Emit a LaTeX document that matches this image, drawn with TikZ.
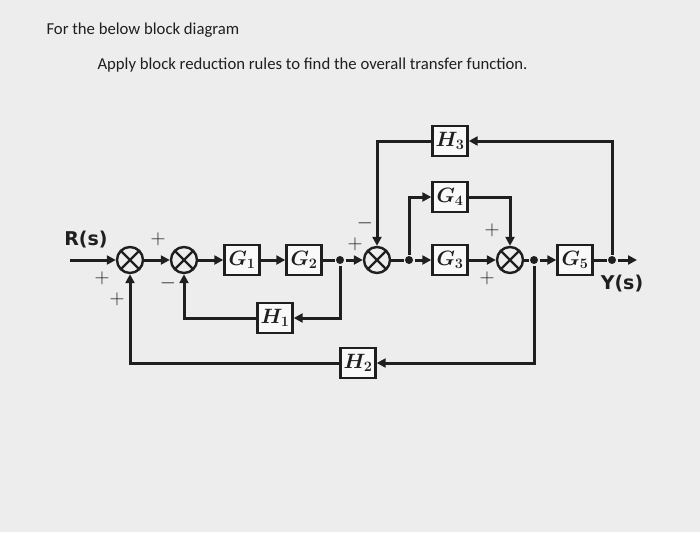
\documentclass[tikz,border=0pt]{standalone}
\usepackage{fontspec}
\setmainfont{Carlito}
\setsansfont{DejaVu Sans}
\usetikzlibrary{arrows.meta}
\begin{document}
\begin{tikzpicture}[x=1pt,y=-1pt,
  line width=3pt, color=black!88,
  blk/.style={draw,line width=2.4pt,minimum width=35pt,minimum height=30pt,inner sep=0pt,font=\fontsize{21}{22}\selectfont\boldmath,fill=white!95!gray},
  sumj/.style={draw,circle,line width=2.4pt,minimum size=26pt,inner sep=0pt,path picture={\draw[line width=2.2pt] (path picture bounding box.north west)--(path picture bounding box.south east) (path picture bounding box.north east)--(path picture bounding box.south west);}},
  dotn/.style={circle,fill,inner sep=0pt,minimum size=8pt},
  arr/.style={-{Triangle[length=9pt,width=9pt]}},
  sg/.style={font=\fontsize{20}{20}\selectfont}]
\fill[gray!14] (0,0) rectangle (700,532);
\useasboundingbox (0,0) rectangle (700,532);
\node[anchor=west,inner sep=0pt,font=\fontsize{16.7}{18}\selectfont] (t1) at (45,30) {For the below block diagram};
\node[anchor=west,inner sep=0pt,font=\fontsize{16.7}{18}\selectfont] (t2) at (96,65) {Apply block reduction rules to find the overall transfer function.};

\coordinate (in) at (70,260);
\node[sumj] (s1) at (130,260) {};
\node[sumj] (s2) at (184,260) {};
\node[blk] (g1) at (242,260) {$G_1$};
\node[blk] (g2) at (304,260) {$G_2$};
\node[dotn] (d1) at (340,260) {};
\node[sumj] (s3) at (377,260) {};
\node[dotn] (d2) at (409,260) {};
\node[blk] (g3) at (450,260) {$G_3$};
\node[blk] (g4) at (450,197) {$G_4$};
\node[sumj] (s4) at (510,260) {};
\node[dotn] (d3) at (534,260) {};
\node[blk] (g5) at (575,260) {$G_5$};
\node[dotn] (d4) at (612,260) {};
\coordinate (out) at (637,260);
\node[blk] (h1) at (275,318) {$H_1$};
\node[blk] (h2) at (358,363) {$H_2$};
\node[blk] (h3) at (450,141) {$H_3$};

\draw[arr] (in) -- (s1);
\draw[arr] (s1) -- (s2);
\draw[arr] (s2) -- (g1);
\draw[arr] (g1) -- (g2);
\draw (g2) -- (d1);
\draw[arr] (d1) -- (s3);
\draw (s3) -- (d2);
\draw[arr] (d2) -- (g3);
\draw[arr] (d2) |- (g4);
\draw[arr] (g3) -- (s4);
\draw[arr] (g4) -| (s4);
\draw (s4) -- (d3);
\draw[arr] (d3) -- (g5);
\draw (g5) -- (d4);
\draw[arr] (d4) -- (out);
\draw[arr] (d1) |- (h1);
\draw[arr] (h1) -| (s2);
\draw[arr] (d3) |- (h2);
\draw[arr] (h2) -| (s1);
\draw[arr] (d4) |- (h3);
\draw[arr] (h3) -| (s3);

\node[font=\sffamily\bfseries\fontsize{19}{19}\selectfont] (rs) at (86,240) {R(s)};
\node[font=\sffamily\bfseries\fontsize{19}{19}\selectfont] (ys) at (622,284) {Y(s)};
\node[sg] (p1) at (102,278) {$+$};
\node[sg] (p2) at (117,299) {$+$};
\node[sg] (p3) at (158,239) {$+$};
\node[sg] (m1) at (168,283) {$-$};
\node[sg] (p4) at (355,244) {$+$};
\node[sg] (m2) at (365,223) {$-$};
\node[sg] (p5) at (492,230) {$+$};
\node[sg] (p6) at (487,278) {$+$};
\end{tikzpicture}
\end{document}
